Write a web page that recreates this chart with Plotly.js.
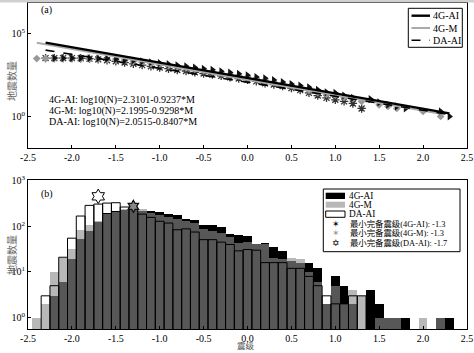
<!DOCTYPE html>
<html><head><meta charset="utf-8">
<script src="https://cdn.plot.ly/plotly-3.0.1.min.js"></script>
<style>html,body{margin:0;padding:0;background:#fff}#chart{width:474px;height:353px}</style>
</head><body><div id="chart"></div>
<script>
// ---- data ----
const magBins = [-2.4,-2.3,-2.2,-2.1,-2.0,-1.9,-1.8,-1.7,-1.6,-1.5,-1.4,-1.3,-1.2,-1.1,-1.0,-0.9,-0.8,-0.7,-0.6,-0.5,-0.4,-0.3,-0.2,-0.1,0.0,0.1,0.2,0.3,0.4,0.5,0.6,0.7,0.8,0.9,1.0,1.1,1.2,1.3,1.4,1.5,1.6,1.7,1.8,1.9,2.0,2.1,2.2,2.3];
const count4GAI = [0,0,3,6,19,53,78,124,195,213,232,243,219,219,203,189,179,147,139,108,105,95,68,63,62,40,44,35,29,17,16,16,12,2,8,5,2,0,4,2,1,1,1,0,0,0,1,1];
const count4GM  = [1,2,10,20,32,84,108,132,185,205,240,250,240,200,179,157,147,129,118,88,78,71,57,43,46,40,40,20,19,20,19,10,6,2,5,2,4,3,0,1,1,1,0,0,1,0,1,0];
const countDAAI = [0,3,5,21,55,168,288,307,323,329,265,245,185,157,129,118,84,88,75,51,51,45,40,29,31,30,16,16,16,12,12,8,5,3,2,2,3,3,0,0,0,0,0,0,0,0,0,0];

const seriesNames = ['4G-AI','4G-M','DA-AI'];
const fitX_AI = [-2.3, 2.3],  fitY_AI = [27200, 1.53];
const fitX_M  = [-2.4, 2.2],  fitY_M  = [26980, 1.43];
const fitX_DA = [-2.3, 2.3],  fitY_DA = [9663, 1.31];
const fitTexts = ['4G-AI: log10(N)=2.3101-0.9237*M','4G-M: log10(N)=2.1995-0.9298*M','DA-AI: log10(N)=2.0515-0.8407*M'];

const mcMag = [-1.3, -1.3, -1.7];
const mcMarkY = [274, 274, 454];
const mcLabels = ['最小完备震级(4G-AI): -1.3','最小完备震级(4G-M): -1.3','最小完备震级(DA-AI): -1.7'];

const xTickVals = [-2.5,-2.0,-1.5,-1.0,-0.5,0.0,0.5,1.0,1.5,2.0,2.5];
const xTickText = ['-2.5','-2.0','-1.5','-1.0','-0.5','0.0','0.5','1.0','1.5','2.0','2.5'];
const yTopTickVals = [1, 100000];
const yTopTickText = ['10<sup>0</sup>','10<sup>5</sup>'];
const yBotTickVals = [1, 10, 100, 1000];
const yBotTickText = ['10<sup>0</sup>','10<sup>1</sup>','10<sup>2</sup>','10<sup>3</sup>'];

// ---- helpers ----
function cumulative(counts){
  const xs=[], ys=[]; let run=0;
  for(let i=counts.length-1;i>=0;i--){ run+=counts[i]; if(counts[i]>0){ xs.unshift(magBins[i]); ys.unshift(run);} }
  return {xs, ys};
}
const nz = a => a.map(v => v>0 ? v : null);
const L=28, R=467, T=3, B=329;
const px = x => (x-L)/(R-L);
const py = y => (B-y)/(B-T);

const SERIF = 'Liberation Serif, Times New Roman, serif';
const CJK = 'Liberation Serif, Noto Sans CJK SC, serif';

const cAI = cumulative(count4GAI), cM = cumulative(count4GM), cDA = cumulative(countDAAI);

const traces = [
  // top panel markers
  {type:'scatter', mode:'markers', x:cDA.xs, y:cDA.ys, xaxis:'x', yaxis:'y', showlegend:false,
   marker:{symbol:'asterisk-open', size:7, color:'#333', line:{color:'#333', width:1.3}}},
  {type:'scatter', mode:'markers', x:cM.xs, y:cM.ys, xaxis:'x', yaxis:'y', showlegend:false,
   marker:{symbol:'diamond', size:6, color:'#999'}},
  {type:'scatter', mode:'markers', x:cAI.xs, y:cAI.ys, xaxis:'x', yaxis:'y', showlegend:false,
   marker:{symbol:'triangle-right', size:7, color:'#111'}},
  // fitted lines
  {type:'scatter', mode:'lines', x:fitX_M, y:fitY_M, xaxis:'x', yaxis:'y', showlegend:false, line:{color:'#aaa', width:2}},
  {type:'scatter', mode:'lines', x:fitX_AI, y:fitY_AI, xaxis:'x', yaxis:'y', showlegend:false, line:{color:'#000', width:2.4}},
  {type:'scatter', mode:'lines', x:fitX_DA, y:fitY_DA, xaxis:'x', yaxis:'y', showlegend:false, line:{color:'#000', width:1.6, dash:'dash'}},
  // histogram
  {type:'bar', name:seriesNames[0], x:magBins, y:nz(count4GAI), width:0.1, xaxis:'x2', yaxis:'y2', showlegend:false,
   marker:{color:'#000', line:{width:0}}},
  {type:'bar', name:seriesNames[1], x:magBins, y:nz(count4GM), width:0.1, xaxis:'x2', yaxis:'y2', showlegend:false,
   marker:{color:'rgba(140,140,140,0.62)', line:{width:0}}},
  {type:'bar', name:seriesNames[2], x:magBins, y:nz(countDAAI), width:0.1, xaxis:'x2', yaxis:'y2', showlegend:false,
   marker:{color:'rgba(255,255,255,0)', line:{color:'#000', width:1}}},
  // Mc stars
  {type:'scatter', mode:'markers', x:[mcMag[0]], y:[mcMarkY[0]], xaxis:'x2', yaxis:'y2', showlegend:false,
   marker:{symbol:'hexagram', size:11, color:'#111'}},
  {type:'scatter', mode:'markers', x:[mcMag[1]], y:[mcMarkY[1]], xaxis:'x2', yaxis:'y2', showlegend:false,
   marker:{symbol:'hexagram', size:7, color:'#888'}},
  {type:'scatter', mode:'markers', x:[mcMag[2]], y:[mcMarkY[2]], xaxis:'x2', yaxis:'y2', showlegend:false,
   marker:{symbol:'hexagram-open', size:11, color:'#000', line:{width:1}}}
];

const axX = {range:[-2.5,2.5], tickvals:xTickVals, ticktext:xTickText, ticks:'inside', ticklen:3, tickcolor:'#000',
  showline:true, linecolor:'#000', linewidth:1, mirror:true, showgrid:false, zeroline:false,
  tickfont:{family:SERIF, size:10, color:'#000'}};
const axY = {type:'log', ticks:'inside', ticklen:3, tickcolor:'#000', showline:true, linecolor:'#000', linewidth:1,
  mirror:true, showgrid:false, zeroline:false, tickfont:{family:SERIF, size:10, color:'#000'}};

const shapes = [
  {type:'rect', xref:'paper', yref:'paper', x0:px(0), x1:px(474), y0:py(0), y1:py(2.5), fillcolor:'#d0d0d0', line:{width:0}, layer:'above'},
  // top legend
  {type:'rect', xref:'paper', yref:'paper', x0:px(408.3), x1:px(462.3), y0:py(8.3), y1:py(47.3), fillcolor:'#fff', line:{color:'#000', width:1}},
  {type:'line', xref:'paper', yref:'paper', x0:px(411.5), x1:px(430), y0:py(15.7), y1:py(15.7), line:{color:'#000', width:2.4}},
  {type:'line', xref:'paper', yref:'paper', x0:px(411.5), x1:px(430), y0:py(28), y1:py(28), line:{color:'#aaa', width:2}},
  {type:'line', xref:'paper', yref:'paper', x0:px(411.5), x1:px(430), y0:py(40.3), y1:py(40.3), line:{color:'#000', width:1.6, dash:'dash'}},
  // bottom legend
  {type:'rect', xref:'paper', yref:'paper', x0:px(323.3), x1:px(460), y0:py(189), y1:py(251.7), fillcolor:'#fff', line:{color:'#000', width:1}},
  {type:'rect', xref:'paper', yref:'paper', x0:px(325.7), x1:px(345), y0:py(192.7), y1:py(199), fillcolor:'#000', line:{width:0}},
  {type:'rect', xref:'paper', yref:'paper', x0:px(325.7), x1:px(345), y0:py(201.7), y1:py(207.7), fillcolor:'#b8b8b8', line:{width:0}},
  {type:'rect', xref:'paper', yref:'paper', x0:px(325.7), x1:px(345), y0:py(211), y1:py(217.3), fillcolor:'#fff', line:{color:'#000', width:1}}
];

const ann = (x,y,text,opts={}) => Object.assign({xref:'paper', yref:'paper', x:px(x), y:py(y), text:text, showarrow:false,
  xanchor:'left', yanchor:'middle', font:{family:SERIF, size:10, color:'#000'}}, opts);
const lg = {font:{family:SERIF, size:9.3, color:'#000'}};

const annotations = [
  ann(39,10,'(a)'), ann(39,193.5,'(b)'),
  ann(46.5,100,fitTexts[0]), ann(46.5,110.5,fitTexts[1]), ann(46.5,121.5,fitTexts[2]),
  ann(431,15.7,seriesNames[0]), ann(431,28,seriesNames[1]), ann(431,40.3,seriesNames[2]),
  ann(347,195.8,seriesNames[0],lg), ann(347,204.7,seriesNames[1],lg), ann(347,214,seriesNames[2],lg),
  ann(348,224.3,mcLabels[0],{font:{family:CJK,size:8.4,color:'#000'}}),
  ann(348,233.3,mcLabels[1],{font:{family:CJK,size:8.4,color:'#000'}}),
  ann(348,242.7,mcLabels[2],{font:{family:CJK,size:8.4,color:'#000'}}),
  ann(336,224.3,'✶',{xanchor:'center', font:{family:'DejaVu Sans',size:9,color:'#000'}}),
  ann(336,233.3,'✶',{xanchor:'center', font:{family:'DejaVu Sans',size:9,color:'#999'}}),
  ann(336,242.7,'✡',{xanchor:'center', font:{family:'DejaVu Sans',size:9,color:'#000'}}),
  ann(12,81,'地震数量',{xanchor:'center', textangle:-90, font:{family:CJK,size:10,color:'#666'}}),
  ann(12,255,'地震数量',{xanchor:'center', textangle:-90, font:{family:CJK,size:10,color:'#666'}}),
  ann(246,353,'震级',{xanchor:'center', yanchor:'bottom', font:{family:CJK,size:8.5,color:'#555'}})
];

const layout = {
  width:474, height:353, margin:{l:L, r:474-R, t:T, b:353-B},
  paper_bgcolor:'#fff', plot_bgcolor:'#fff', showlegend:false,
  barmode:'overlay', bargap:0,
  xaxis:Object.assign({}, axX, {anchor:'y', domain:[0,1]}),
  yaxis:Object.assign({}, axY, {anchor:'x', domain:[py(148),1], range:[-1.9,6.82], tickvals:yTopTickVals, ticktext:yTopTickText}),
  xaxis2:Object.assign({}, axX, {anchor:'y2', domain:[0,1]}),
  yaxis2:Object.assign({}, axY, {anchor:'x2', domain:[0,py(180)], range:[-0.25,3.015], tickvals:yBotTickVals, ticktext:yBotTickText}),
  shapes:shapes, annotations:annotations
};
Plotly.newPlot('chart', traces, layout, {staticPlot:true, displayModeBar:false});
</script></body></html>
